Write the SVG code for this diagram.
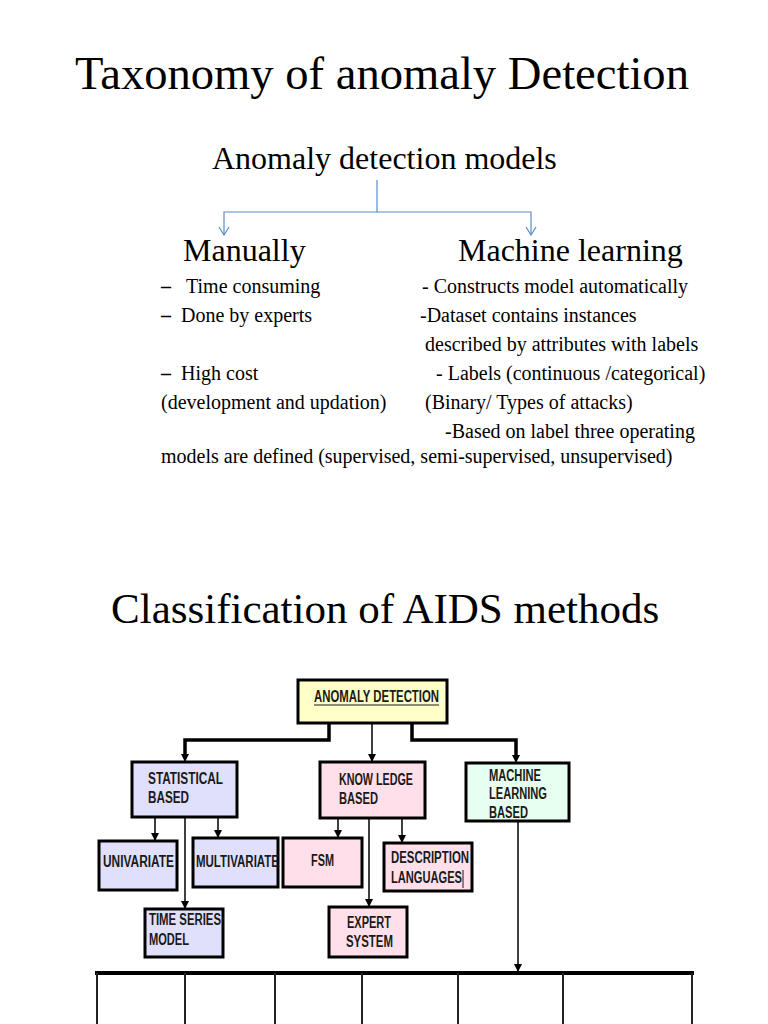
<svg xmlns="http://www.w3.org/2000/svg" width="768" height="1024" viewBox="0 0 768 1024">
<style>
.serif{font-family:"Liberation Serif","Times New Roman",serif;fill:#000}
.t1{font-size:46.6px}
.t2{font-size:43px}
.h{font-size:32px}
.b{font-size:20px}
.dash{font-weight:bold}
.lbl{font-family:"Liberation Sans",Arial,sans-serif;font-size:16px;font-weight:bold;fill:#1a1a1a}
.box{stroke:#000;stroke-width:3}
.stat{fill:#e0e0fc}
.know{fill:#ffe0ea}
.ml{fill:#e6fff0}
.root{fill:#ffffc8}
.thick{fill:none;stroke:#000;stroke-width:3.5}
.thin{fill:none;stroke:#000;stroke-width:1.5}
.blue{fill:none;stroke:#5b8bc9;stroke-width:1.2}
</style>
<defs>
<marker id="ah" markerUnits="userSpaceOnUse" markerWidth="10" markerHeight="10" refX="5" refY="9" viewBox="0 0 10 10">
<path d="M1,1 L9,1 L5,9 Z" fill="#000"/>
</marker>
<marker id="ahb" markerUnits="userSpaceOnUse" markerWidth="12" markerHeight="12" refX="6" refY="11" viewBox="0 0 12 12">
<path d="M1,3 L6,11 L11,3" fill="none" stroke="#5b8bc9" stroke-width="1.2"/>
</marker>
</defs>
<rect width="768" height="1024" fill="#fff"/>

<g id="texts">
<text class="serif t1" x="75" y="89">Taxonomy of anomaly Detection</text>
<text class="serif h" x="212" y="169">Anomaly detection models</text>
<text class="serif h" x="183" y="261">Manually</text>
<text class="serif h" x="458" y="261">Machine learning</text>
<text class="serif b dash" x="161" y="293">–</text>
<text class="serif b" x="186" y="293">Time consuming</text>
<text class="serif b dash" x="161" y="322">–</text>
<text class="serif b" x="181" y="322">Done by experts</text>
<text class="serif b dash" x="161" y="380">–</text>
<text class="serif b" x="181" y="380">High cost</text>
<text class="serif b" x="161" y="409">(development and updation)</text>
<text class="serif b" x="422" y="293">- Constructs model automatically</text>
<text class="serif b" x="420" y="322">-Dataset contains instances</text>
<text class="serif b" x="425" y="351">described by attributes with labels</text>
<text class="serif b" x="436" y="380">- Labels (continuous /categorical)</text>
<text class="serif b" x="425" y="409">(Binary/ Types of attacks)</text>
<text class="serif b" x="445" y="438">-Based on label three operating</text>
<text class="serif b" x="161" y="463">models are defined (supervised, semi-supervised, unsupervised)</text>
<text class="serif t2" x="111" y="623">Classification of AIDS methods</text>
</g>

<g id="top-connectors">
<path class="blue" d="M377,180 V212 H224 V235" marker-end="url(#ahb)"/>
<path class="blue" d="M377,212 H531 V235" marker-end="url(#ahb)"/>
</g>

<g id="connectors">
<path class="thick" d="M329,723 V740 H185 V755"/>
<path class="thin" d="M185,754 V762" marker-end="url(#ah)"/>
<path class="thick" d="M412,723 V740 H516 V755"/>
<path class="thin" d="M516,754 V763" marker-end="url(#ah)"/>
<path class="thin" d="M372,723 V762" marker-end="url(#ah)"/>
<path class="thin" d="M155,817 V841" marker-end="url(#ah)"/>
<path class="thin" d="M185,817 V909" marker-end="url(#ah)"/>
<path class="thin" d="M218,817 V838" marker-end="url(#ah)"/>
<path class="thin" d="M338,818 V838" marker-end="url(#ah)"/>
<path class="thin" d="M369,818 V907" marker-end="url(#ah)"/>
<path class="thin" d="M402,818 V843" marker-end="url(#ah)"/>
<path class="thin" d="M518,821 V972" marker-end="url(#ah)"/>
<path d="M95,973 H694" stroke="#000" stroke-width="4" fill="none"/>
<path d="M97,973 V1024 M185,973 V1024 M275,973 V1024 M362,973 V1024 M458,973 V1024 M563,973 V1024 M692,973 V1024" stroke="#222" stroke-width="2" fill="none"/>
</g>

<g id="anomaly-detection">
<rect class="box root" x="298" y="680" width="149" height="43"/>
<text class="lbl" x="314" y="702" textLength="125" lengthAdjust="spacingAndGlyphs">ANOMALY DETECTION</text>
<line x1="314" y1="705" x2="439" y2="705" stroke="#1a1a1a" stroke-width="1.2"/>
</g>
<g id="statistical">
<rect class="box stat" x="132" y="762" width="105" height="55"/>
<text class="lbl" x="148" y="784" textLength="75" lengthAdjust="spacingAndGlyphs">STATISTICAL</text>
<text class="lbl" x="148" y="803" textLength="41" lengthAdjust="spacingAndGlyphs">BASED</text>
</g>
<g id="knowledge">
<rect class="box know" x="320" y="762" width="105" height="56"/>
<text class="lbl" x="339" y="785" textLength="74" lengthAdjust="spacingAndGlyphs">KNOW LEDGE</text>
<text class="lbl" x="339" y="804" textLength="39" lengthAdjust="spacingAndGlyphs">BASED</text>
</g>
<g id="machine-learning">
<rect class="box ml" x="466" y="763" width="103" height="58"/>
<text class="lbl" x="489" y="781" textLength="52" lengthAdjust="spacingAndGlyphs">MACHINE</text>
<text class="lbl" x="489" y="799" textLength="58" lengthAdjust="spacingAndGlyphs">LEARNING</text>
<text class="lbl" x="489" y="818" textLength="39" lengthAdjust="spacingAndGlyphs">BASED</text>
</g>
<g id="univariate">
<rect class="box stat" x="99" y="841" width="78" height="49"/>
<text class="lbl" x="103" y="867" textLength="71" lengthAdjust="spacingAndGlyphs">UNIVARIATE</text>
</g>
<g id="multivariate">
<rect class="box stat" x="193" y="838" width="85" height="49"/>
<text class="lbl" x="196" y="867" textLength="83" lengthAdjust="spacingAndGlyphs">MULTIVARIATE</text>
</g>
<g id="fsm">
<rect class="box know" x="283" y="838" width="79" height="49"/>
<text class="lbl" x="311" y="866" textLength="23" lengthAdjust="spacingAndGlyphs">FSM</text>
</g>
<g id="description-languages">
<rect class="box know" x="384" y="843" width="88" height="48"/>
<text class="lbl" x="391" y="863" textLength="78" lengthAdjust="spacingAndGlyphs">DESCRIPTION</text>
<text class="lbl" x="391" y="883" textLength="71" lengthAdjust="spacingAndGlyphs">LANGUAGES</text>
<line x1="463" y1="870" x2="463" y2="888" stroke="#1a1a1a" stroke-width="1"/>
</g>
<g id="time-series">
<rect class="box stat" x="145" y="909" width="78" height="48"/>
<text class="lbl" x="149" y="925" textLength="72" lengthAdjust="spacingAndGlyphs">TIME SERIES</text>
<text class="lbl" x="149" y="945" textLength="40" lengthAdjust="spacingAndGlyphs">MODEL</text>
</g>
<g id="expert-system">
<rect class="box know" x="329" y="907" width="78" height="50"/>
<text class="lbl" x="347" y="928" textLength="44" lengthAdjust="spacingAndGlyphs">EXPERT</text>
<text class="lbl" x="346" y="947" textLength="47" lengthAdjust="spacingAndGlyphs">SYSTEM</text>
</g>
</svg>
